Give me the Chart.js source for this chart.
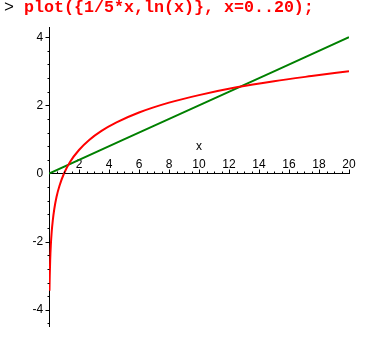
<!DOCTYPE html>
<html>
<head>
<meta charset="utf-8">
<script src="https://cdn.jsdelivr.net/npm/chart.js@4/dist/chart.umd.min.js"></script>
<style>
  html, body { margin: 0; padding: 0; background: #fff; }
  #wrap { position: relative; width: 368px; height: 337px; overflow: hidden; }
  #cmd {
    position: absolute; left: 4px; top: 0;
    font: bold 16.67px 'Liberation Mono', monospace; line-height: 16px;
    color: #f00; white-space: pre;
  }
  #cmd span { color: #000; font-weight: normal; }
  canvas { position: absolute; left: 0; top: 0; }
</style>
</head>
<body>
<div id="wrap">
  <canvas id="plot" width="368" height="337"></canvas>
  <div id="cmd"><span>&gt;</span> plot({1/5*x,ln(x)}, x=0..20);</div>
</div>
<script>
  // ── Data ──────────────────────────────────────────────────────────

  var X_TICKS = [2, 4, 6, 8, 10, 12, 14, 16, 18, 20];
  var Y_TICKS = [-4, -2, 0, 2, 4];

  // 1/5*x  (green)
  var LINE_X = [0, 5, 10, 15, 20];
  var LINE_Y = [0, 1, 2, 3, 4];

  // ln(x)  (red)
  var LN_X = [0.032, 0.05, 0.08, 0.12, 0.18, 0.25, 0.35, 0.5, 0.7, 1, 1.4, 2, 2.7, 3.5, 4.5, 6, 8, 10, 12.5, 15, 17.5, 20];
  var LN_Y = [-3.44, -3.0, -2.53, -2.12, -1.71, -1.39, -1.05, -0.69, -0.36, 0, 0.34, 0.69, 0.99, 1.25, 1.5, 1.79, 2.08, 2.3, 2.53, 2.71, 2.86, 3.0];

  var RED   = '#ff0000';
  var GREEN = '#008000';
  var TICK_FONT = { family: "'Liberation Sans', Arial, sans-serif", size: 12 };

  function toPoints(xs, ys) {
    return xs.map(function (x, i) { return { x: x, y: ys[i] }; });
  }

  // ── Maple-style tick marks + axis label ───────────────────────────

  var mapleAxes = {
    id: 'mapleAxes',
    afterDraw: function (chart) {
      var ctx = chart.ctx;
      var xs = chart.scales.x, ys = chart.scales.y;
      var x0 = Math.round(xs.getPixelForValue(0)) + 0.5;
      var y0 = Math.round(ys.getPixelForValue(0)) + 0.5;
      var v, p, major;

      ctx.save();
      ctx.strokeStyle = '#000';
      ctx.lineWidth = 1;
      ctx.beginPath();
      // x axis: ticks point up, major every 2, minor every 0.5
      for (v = 0.5; v <= 20.001; v += 0.5) {
        p = Math.round(xs.getPixelForValue(v)) + 0.5;
        major = Math.abs(v / 2 - Math.round(v / 2)) < 1e-6;
        ctx.moveTo(p, y0);
        ctx.lineTo(p, y0 - (major ? 4 : 2));
      }
      // y axis: ticks point left, major every 2, minor every 0.4
      for (v = -4.4; v <= 4.001; v += 0.4) {
        if (Math.abs(v) < 1e-6) continue;
        p = Math.round(ys.getPixelForValue(v)) + 0.5;
        major = Math.abs(v / 2 - Math.round(v / 2)) < 1e-6;
        ctx.moveTo(x0, p);
        ctx.lineTo(x0 - (major ? 4 : 2), p);
      }
      ctx.stroke();

      ctx.fillStyle = '#000';
      ctx.font = '12px ' + TICK_FONT.family;
      ctx.textAlign = 'center';
      ctx.textBaseline = 'middle';
      ctx.fillText('x', xs.getPixelForValue(10), 147);
      ctx.restore();
    }
  };

  // ── Chart ─────────────────────────────────────────────────────────

  new Chart(document.getElementById('plot'), {
    type: 'line',
    data: {
      datasets: [
        {
          label: 'ln(x)',
          data: toPoints(LN_X, LN_Y),
          borderColor: RED,
          borderWidth: 2,
          pointRadius: 0,
          cubicInterpolationMode: 'monotone',
          fill: false
        },
        {
          label: '1/5*x',
          data: toPoints(LINE_X, LINE_Y),
          borderColor: GREEN,
          borderWidth: 2,
          pointRadius: 0,
          fill: false
        }
      ]
    },
    options: {
      responsive: false,
      animation: false,
      devicePixelRatio: 1,
      layout: { padding: { left: 49, right: 19, top: 27, bottom: 8 } },
      plugins: { legend: { display: false }, tooltip: { enabled: false } },
      scales: {
        x: {
          type: 'linear', min: 0, max: 20,
          position: { y: 0 },
          afterBuildTicks: function (s) { s.ticks = X_TICKS.map(function (v) { return { value: v }; }); },
          grid: { display: false, drawTicks: false },
          border: { display: true, color: '#000', width: 1 },
          ticks: { color: '#000', font: TICK_FONT, padding: -16, maxRotation: 0, autoSkip: false }
        },
        y: {
          type: 'linear', min: -4.5, max: 4.3,
          position: { x: 0 },
          afterBuildTicks: function (s) { s.ticks = Y_TICKS.map(function (v) { return { value: v }; }); },
          grid: { display: false, drawTicks: false },
          border: { display: true, color: '#000', width: 1 },
          // labels sit flush on the axis here, so pad them off it with trailing spaces
          ticks: {
            color: '#000', font: TICK_FONT, autoSkip: false,
            callback: function (v) { return v + ' \u2009'; }
          }
        }
      }
    },
    plugins: [mapleAxes]
  });
</script>
</body>
</html>
